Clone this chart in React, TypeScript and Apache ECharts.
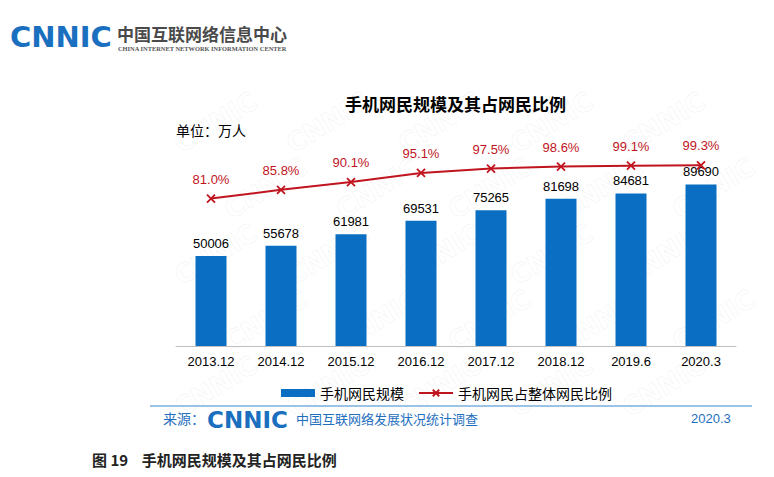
import React, { useEffect, useRef } from "react";
import * as echarts from "echarts";

// Survey periods and values
const periods = ["2013.12", "2014.12", "2015.12", "2016.12", "2017.12", "2018.12", "2019.6", "2020.3"];
const mobileUsers = [50006, 55678, 61981, 69531, 75265, 81698, 84681, 89690]; // 万人
const mobileShare = [81.0, 85.8, 90.1, 95.1, 97.5, 98.6, 99.1, 99.3]; // %

const barName = "手机网民规模";
const lineName = "手机网民占整体网民比例";

const CJK = "'Noto Sans CJK SC', 'Liberation Sans', sans-serif";
const NUM = "'Liberation Sans', Arial, sans-serif";
const BLUE = "#0a6fc2";
const RED = "#c0141e";

// faint diagonal watermark tiles behind the chart
function watermarks() {
  const items: any[] = [];
  for (let row = 0; row < 5; row++) {
    for (let col = 0; col < 5; col++) {
      items.push({
        type: "text",
        x: 170 + col * 112 + (row % 2) * 50,
        y: 135 + row * 66,
        rotation: 0.55,
        silent: true,
        z: -10,
        style: {
          text: "CNNIC",
          font: "bold 26px 'DejaVu Sans'",
          fill: "rgba(0,0,0,0)",
          stroke: "rgba(120,120,120,0.07)",
          lineWidth: 1,
        },
      });
    }
  }
  return items;
}

export default function App() {
  const ref = useRef<HTMLDivElement>(null);

  useEffect(() => {
    document.body.style.margin = "0";
    if (!ref.current) return;
    const chart = echarts.init(ref.current, null, { renderer: "svg" });

    chart.setOption({
      animation: false,
      backgroundColor: "#ffffff",
      title: {
        text: "手机网民规模及其占网民比例",
        left: 340,
        top: 90,
        textStyle: { fontFamily: CJK, fontSize: 17, fontWeight: "bold", color: "#000" },
      },
      legend: {
        left: 276,
        top: 381,
        itemWidth: 34,
        itemHeight: 8,
        itemGap: 14,
        textStyle: { fontFamily: CJK, fontSize: 14, color: "#000" },
        data: [
          { name: barName, icon: "rect" },
          { name: lineName },
        ],
      },
      grid: { left: 176, right: 38, top: 164, height: 182 },
      xAxis: {
        type: "category",
        data: periods,
        axisLine: { lineStyle: { color: "#bfbfbf", width: 1 } },
        axisTick: { show: false },
        axisLabel: { color: "#000", fontSize: 13, fontFamily: NUM, margin: 9 },
      },
      yAxis: [
        { type: "value", min: 0, max: 101000, show: false, splitLine: { show: false } },
        { type: "value", min: 0, max: 100, show: false, splitLine: { show: false } },
      ],
      series: [
        {
          name: barName,
          type: "bar",
          data: mobileUsers,
          barWidth: 31,
          itemStyle: { color: BLUE },
          label: {
            show: true,
            position: "top",
            distance: 6,
            color: "#000",
            fontSize: 13,
            fontFamily: NUM,
          },
        },
        {
          name: lineName,
          type: "line",
          yAxisIndex: 1,
          data: mobileShare,
          symbol: "path://M0,0L10,10M10,0L0,10",
          symbolSize: 8,
          lineStyle: { color: RED, width: 2 },
          itemStyle: { color: RED, borderColor: RED, borderWidth: 1.8 },
          label: {
            show: true,
            position: "top",
            distance: 8,
            color: RED,
            fontSize: 13,
            fontFamily: NUM,
            formatter: (p: any) => p.value.toFixed(1) + "%",
          },
        },
      ],
      graphic: [
        ...watermarks(),
        // header logo
        {
          type: "text",
          left: 10,
          top: 22,
          style: { text: "CNNIC", font: "bold 29px 'DejaVu Sans'", fill: "#1a6fbf" },
        },
        {
          type: "text",
          left: 117,
          top: 25,
          style: { text: "中国互联网络信息中心", font: "bold 17px 'Noto Sans CJK SC'", fill: "#4a4a4a" },
        },
        {
          type: "text",
          left: 118,
          top: 45,
          style: { text: "CHINA INTERNET NETWORK INFORMATION CENTER", font: "bold 6.4px 'Liberation Serif'", fill: "#555" },
        },
        // unit
        {
          type: "text",
          left: 176,
          top: 123,
          style: { text: "单位：万人", font: "14px 'Noto Sans CJK SC'", fill: "#000" },
        },
        // footer separator
        {
          type: "line",
          shape: { x1: 150, y1: 406, x2: 752, y2: 406 },
          style: { stroke: "#9cc3e5", lineWidth: 2 },
        },
        {
          type: "text",
          left: 163,
          top: 411,
          style: { text: "来源：", font: "14px 'Noto Sans CJK SC'", fill: "#1f6fbf" },
        },
        {
          type: "text",
          left: 207,
          top: 408,
          style: { text: "CNNIC", font: "bold 23px 'DejaVu Sans'", fill: "#1a6fbf" },
        },
        {
          type: "text",
          left: 296,
          top: 412,
          style: { text: "中国互联网络发展状况统计调查", font: "13px 'Noto Sans CJK SC'", fill: "#1f6fbf" },
        },
        {
          type: "text",
          left: 691,
          top: 412,
          style: { text: "2020.3", font: "13px 'Liberation Sans'", fill: "#1f6fbf" },
        },
        // caption
        {
          type: "text",
          left: 92,
          top: 452,
          style: { text: "图 19    手机网民规模及其占网民比例", font: "bold 15px 'Noto Sans CJK SC'", fill: "#222" },
        },
      ],
    });

    return () => chart.dispose();
  }, []);

  return <div ref={ref} style={{ width: 774, height: 477 }} />;
}
